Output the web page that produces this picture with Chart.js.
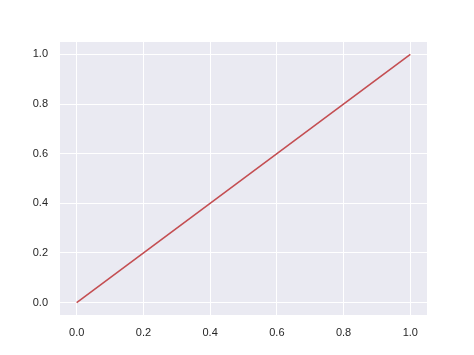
<!DOCTYPE html>
<html>
<head>
<meta charset="utf-8">
<script src="https://cdn.jsdelivr.net/npm/chart.js@4/dist/chart.umd.min.js"></script>
<style>
  html, body { margin: 0; padding: 0; background: #fff; }
  #wrap { width: 474px; height: 355px; }
</style>
</head>
<body>
<div id="wrap"><canvas id="chart" width="474" height="355"></canvas></div>
<script>
// --- Data ---
const xValues = [0, 1];
const yValues = [0, 1];
const xTicks = [0, 0.2, 0.4, 0.6, 0.8, 1.0];
const yTicks = [0, 0.2, 0.4, 0.6, 0.8, 1.0];

const points = xValues.map((x, i) => ({ x: x, y: yValues[i] }));

// Fill plot area with seaborn grey
const plotBackground = {
    id: 'plotBackground',
    beforeDraw(chart) {
        const { ctx, chartArea: a } = chart;
        ctx.save();
        ctx.fillStyle = '#EAEAF2';
        ctx.fillRect(a.left, a.top, a.right - a.left, a.bottom - a.top);
        ctx.restore();
    }
};

const tickFont = { family: "'Liberation Sans', Arial, sans-serif", size: 11 };

new Chart(document.getElementById('chart').getContext('2d'), {
    type: 'line',
    data: {
        datasets: [{
            data: points,
            borderColor: '#C44E52',
            borderWidth: 1.6,
            pointRadius: 0,
            tension: 0,
            fill: false
        }]
    },
    options: {
        responsive: false,
        animation: false,
        layout: { padding: { top: 42, right: 47, left: 0, bottom: 0 } },
        plugins: {
            legend: { display: false },
            tooltip: { enabled: false }
        },
        scales: {
            x: {
                type: 'linear',
                min: -0.05,
                max: 1.05,
                border: { display: false },
                grid: { color: '#FFFFFF', lineWidth: 1, drawTicks: false },
                afterBuildTicks: (axis) => { axis.ticks = xTicks.map(v => ({ value: v })); },
                afterFit: (axis) => { axis.height = 40; },
                ticks: {
                    color: '#262626',
                    font: tickFont,
                    padding: 11,
                    maxRotation: 0,
                    callback: (v) => v.toFixed(1)
                }
            },
            y: {
                type: 'linear',
                min: -0.05,
                max: 1.05,
                border: { display: false },
                grid: { color: '#FFFFFF', lineWidth: 1, drawTicks: false },
                afterBuildTicks: (axis) => { axis.ticks = yTicks.map(v => ({ value: v })); },
                afterFit: (axis) => { axis.width = 60; },
                ticks: {
                    color: '#262626',
                    font: tickFont,
                    padding: 12,
                    callback: (v) => v.toFixed(1)
                }
            }
        }
    },
    plugins: [plotBackground]
});
</script>
</body>
</html>
